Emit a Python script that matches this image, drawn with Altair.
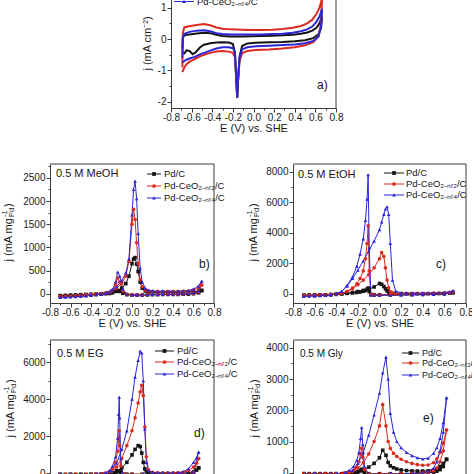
import altair as alt
import pandas as pd

SERIES = ["Pd/C", "Pd-CeO₂₋ₙᵣ₂/C", "Pd-CeO₂₋ₙᵣ₄/C"]
COLORS = ["#141414", "#dc2a1e", "#2b25d6"]
SHAPES = ["square", "circle", "triangle-up"]
FONT = "Liberation Sans"
AX = "#3c3c3c"

X_TICKS = [-0.8, -0.7, -0.6, -0.5, -0.4, -0.3, -0.2, -0.1, 0.0, 0.1, 0.2, 0.3, 0.4, 0.5, 0.6, 0.7, 0.8]
A_Y_TICKS = [-2.0, -1.5, -1.0, -0.5, 0.0, 0.5, 1.0, 1.5]
B_Y_TICKS = [0, 250, 500, 750, 1000, 1250, 1500, 1750, 2000, 2250, 2500, 2750]
C_Y_TICKS = [0, 1000, 2000, 3000, 4000, 5000, 6000, 7000, 8000]
D_Y_TICKS = [0, 1000, 2000, 3000, 4000, 5000, 6000, 7000]
E_Y_TICKS = [0, 500, 1000, 1500, 2000, 2500, 3000, 3500, 4000]

# ---------------- panel a: CV (mA cm-2) ----------------
A_FWD_E = [-0.69, -0.685, -0.67, -0.62, -0.55, -0.48, -0.42, -0.36, -0.30, -0.22, -0.12,
           -0.02, 0.08, 0.18, 0.28, 0.38, 0.46, 0.52, 0.57, 0.61, 0.64, 0.665]
A_PDC_FWD = [-0.30, 0.05, 0.12, 0.15, 0.18, 0.20, 0.19, 0.14, 0.10, 0.08, 0.08,
             0.09, 0.10, 0.11, 0.12, 0.14, 0.17, 0.21, 0.27, 0.36, 0.50, 0.72]
A_NR_FWD = [-0.90, 0.20, 0.38, 0.41, 0.45, 0.48, 0.44, 0.37, 0.33, 0.31, 0.30,
            0.29, 0.29, 0.30, 0.32, 0.36, 0.42, 0.50, 0.62, 0.80, 1.00, 1.30]
A_NS_FWD = [-0.60, 0.05, 0.17, 0.23, 0.27, 0.28, 0.25, 0.19, 0.16, 0.15, 0.15,
            0.15, 0.15, 0.16, 0.17, 0.20, 0.25, 0.31, 0.40, 0.55, 0.72, 0.97]
A_REV_E = [0.665, 0.655, 0.63, 0.58, 0.50, 0.40, 0.28, 0.15, 0.02, -0.06, -0.11, -0.135,
           -0.15, -0.158, -0.166, -0.18, -0.20, -0.24, -0.30, -0.36, -0.42, -0.48, -0.52,
           -0.56, -0.59, -0.62, -0.65, -0.67, -0.69]
A_PDC_REV = [0.72, 0.35, 0.15, 0.03, -0.04, -0.07, -0.09, -0.10, -0.12, -0.14, -0.22, -0.55,
             -1.30, -1.88, -1.35, -0.45, -0.16, -0.11, -0.10, -0.11, -0.13, -0.18, -0.27,
             -0.42, -0.48, -0.38, -0.36, -0.46, -0.42]
A_NR_REV = [1.30, 0.50, 0.10, -0.10, -0.20, -0.26, -0.30, -0.33, -0.35, -0.38, -0.45, -0.70,
            -1.35, -1.86, -1.35, -0.58, -0.44, -0.40, -0.38, -0.40, -0.44, -0.50, -0.55,
            -0.62, -0.67, -0.72, -0.80, -0.90, -1.05]
A_NS_REV = [0.97, 0.40, 0.08, -0.06, -0.13, -0.17, -0.19, -0.21, -0.23, -0.26, -0.33, -0.60,
            -1.30, -1.87, -1.32, -0.42, -0.29, -0.26, -0.26, -0.30, -0.37, -0.44, -0.49,
            -0.55, -0.59, -0.62, -0.66, -0.70, -0.75]

# ---------------- panel b: 0.5 M MeOH ----------------
B_FWD_E = [-0.70, -0.65, -0.60, -0.55, -0.50, -0.45, -0.40, -0.35, -0.30, -0.25, -0.20, -0.15,
           -0.10, -0.06, -0.03, 0.00, 0.015, 0.03, 0.045, 0.06, 0.08, 0.10, 0.13, 0.16, 0.20,
           0.25, 0.30, 0.35, 0.40, 0.45, 0.50, 0.55, 0.60, 0.65, 0.68]
B_PDC_FWD = [-40, -35, -30, -25, -20, -15, -10, -5, 0, 10, 30, 60, 120, 220, 380, 650, 750, 780,
             640, 480, 250, 120, 60, 40, 30, 30, 30, 30, 30, 30, 35, 40, 45, 55, 70]
B_NR_FWD = [-60, -55, -50, -45, -40, -30, -20, -10, 0, 20, 60, 120, 220, 380, 700, 1500, 1820,
            1600, 1100, 650, 300, 150, 80, 60, 50, 45, 45, 45, 45, 45, 50, 60, 80, 130, 190]
B_NS_FWD = [-70, -65, -60, -55, -50, -40, -30, -15, 0, 30, 80, 150, 280, 450, 750, 1700, 2250,
            2430, 2050, 1300, 550, 250, 120, 80, 60, 55, 55, 55, 55, 55, 60, 70, 100, 170, 270]
B_REV_E = [0.68, 0.65, 0.60, 0.55, 0.50, 0.45, 0.40, 0.35, 0.30, 0.25, 0.20, 0.15, 0.10, 0.05,
           0.00, -0.05, -0.09, -0.12, -0.14, -0.16, -0.19, -0.22, -0.26, -0.30, -0.35, -0.40,
           -0.45, -0.50, -0.55, -0.60, -0.65, -0.70]
B_PDC_REV = [70, 20, 0, -10, -10, -15, -15, -15, -15, -20, -20, -25, -30, -30, -30, -20, 10, 50,
             70, 50, 20, 5, 0, -10, -20, -25, -30, -35, -40, -40, -45, -50]
B_NR_REV = [190, 40, 10, 0, -5, -10, -10, -10, -10, -15, -15, -20, -25, -25, -25, -10, 60, 250,
            340, 200, 70, 20, 5, 0, -10, -20, -30, -40, -50, -55, -60, -60]
B_NS_REV = [270, 60, 20, 5, 0, -5, -10, -10, -10, -15, -15, -20, -25, -25, -25, -5, 100, 380,
            470, 260, 90, 30, 10, 0, -15, -30, -45, -55, -65, -70, -75, -80]

# ---------------- panel c: 0.5 M EtOH ----------------
C_FWD_E = [-0.70, -0.65, -0.60, -0.55, -0.50, -0.45, -0.40, -0.35, -0.30, -0.25, -0.20, -0.15,
           -0.10, -0.05, 0.00, 0.02, 0.04, 0.055, 0.07, 0.085, 0.10, 0.12, 0.15, 0.20, 0.25,
           0.30, 0.35, 0.40, 0.45, 0.50, 0.55, 0.60, 0.65, 0.68]
C_PDC_FWD = [-100, -90, -80, -70, -60, -50, -30, 0, 40, 90, 150, 220, 300, 450, 680, 620, 480,
             330, 200, 110, 60, 30, 20, 10, 10, 10, 10, 10, 10, 15, 20, 30, 50, 80]
C_NR_FWD = [-120, -110, -100, -90, -80, -60, -20, 50, 150, 330, 600, 900, 1250, 1700, 2300, 2700,
            2450, 1700, 900, 400, 150, 60, 30, 20, 20, 20, 20, 20, 25, 30, 40, 60, 90, 140]
C_NS_FWD = [-150, -140, -130, -120, -100, -60, 20, 150, 500, 1000, 1550, 2150, 2800, 3450, 4200,
            4700, 5200, 5550, 5700, 5200, 3300, 900, 180, 60, 50, 50, 50, 50, 55, 60, 70, 90,
            130, 200]
C_REV_E = [0.68, 0.60, 0.50, 0.40, 0.30, 0.20, 0.10, 0.00, -0.05, -0.08, -0.095, -0.105, -0.115,
           -0.13, -0.15, -0.18, -0.21, -0.25, -0.30, -0.35, -0.40, -0.45, -0.50, -0.55, -0.60,
           -0.65, -0.70]
C_PDC_REV = [80, 0, -20, -30, -40, -50, -60, -60, -60, -50, 150, 380, 300, 220, 170, 120, 90, 60,
             30, 0, -30, -50, -60, -70, -80, -90, -100]
C_NR_REV = [140, 0, -30, -40, -50, -60, -70, -80, -80, -60, 1500, 4450, 3300, 2300, 1500, 1000,
            650, 380, 150, 30, -30, -60, -80, -90, -100, -110, -120]
C_NS_REV = [200, 0, -40, -60, -70, -80, -90, -100, -100, -80, 3000, 7800, 6200, 4800, 3600, 2600,
            1800, 1100, 550, 150, 0, -60, -90, -110, -130, -140, -150]

# ---------------- panel d: 0.5 M EG ----------------
D_FWD_E = [-0.70, -0.65, -0.60, -0.55, -0.50, -0.45, -0.40, -0.35, -0.30, -0.25, -0.20, -0.15,
           -0.10, -0.05, 0.00, 0.03, 0.06, 0.08, 0.095, 0.11, 0.125, 0.14, 0.16, 0.20, 0.25, 0.30,
           0.35, 0.40, 0.45, 0.50, 0.55, 0.60, 0.63, 0.65]
D_PDC_FWD = [-50, -50, -50, -50, -50, -50, -50, -50, -40, -20, 50, 150, 300, 600, 1000, 1300,
             1500, 1450, 1100, 600, 250, 100, 40, 10, 0, 0, 0, 0, 0, 10, 30, 80, 180, 300]
D_NR_FWD = [-60, -60, -60, -60, -60, -60, -60, -60, -50, -20, 100, 350, 800, 1500, 2300, 3000,
            3800, 4400, 4750, 4200, 2500, 900, 200, 60, 30, 20, 20, 20, 30, 60, 150, 350, 550, 800]
D_NS_FWD = [-70, -70, -70, -70, -70, -70, -70, -70, -60, -20, 150, 550, 1300, 2300, 4000, 5200,
            6100, 6600, 6500, 5000, 2400, 600, 150, 60, 40, 30, 30, 30, 40, 100, 250, 600, 850,
            1150]
D_REV_E = [0.65, 0.60, 0.50, 0.40, 0.30, 0.20, 0.10, 0.00, -0.05, -0.09, -0.11, -0.12, -0.125,
           -0.13, -0.14, -0.16, -0.19, -0.22, -0.26, -0.30, -0.35, -0.40, -0.50, -0.60, -0.70]
D_PDC_REV = [300, 20, -20, -30, -30, -40, -40, -40, -40, -20, 60, 120, 140, 120, 90, 50, 20, 0,
             -20, -40, -50, -50, -50, -50, -50]
D_NR_REV = [800, 60, -20, -40, -40, -50, -50, -50, -50, -20, 400, 1500, 2300, 1900, 1200, 600,
            250, 100, 20, -30, -50, -60, -60, -60, -60]
D_NS_REV = [1150, 100, -20, -50, -60, -60, -60, -60, -60, -30, 800, 3000, 4120, 3200, 1900, 900,
            400, 150, 40, -30, -60, -70, -70, -70, -70]

# ---------------- panel e: 0.5 M Gly ----------------
E_FWD_E = [-0.70, -0.65, -0.60, -0.55, -0.50, -0.45, -0.40, -0.35, -0.30, -0.25, -0.20, -0.15,
           -0.10, -0.05, 0.00, 0.03, 0.06, 0.08, 0.10, 0.13, 0.16, 0.20, 0.25, 0.30, 0.35, 0.40,
           0.45, 0.50, 0.53, 0.56, 0.59, 0.62]
E_PDC_FWD = [-30, -30, -30, -30, -30, -30, -30, -30, -20, 0, 30, 80, 180, 300, 480, 720, 560, 330,
             220, 160, 120, 90, 70, 60, 55, 55, 60, 80, 120, 200, 300, 430]
E_NR_FWD = [-40, -40, -40, -40, -40, -40, -40, -40, -20, 40, 150, 320, 600, 1000, 1500, 2180,
            1500, 1000, 780, 620, 520, 430, 350, 300, 260, 240, 250, 320, 450, 650, 950, 1370]
E_NS_FWD = [-50, -50, -50, -50, -50, -50, -50, -50, -20, 80, 300, 650, 1200, 1850, 2550, 3200,
            3700, 3000, 1900, 1300, 1000, 800, 650, 550, 480, 440, 470, 620, 800, 1100, 1600, 2400]
E_REV_E = [0.62, 0.59, 0.56, 0.53, 0.50, 0.45, 0.40, 0.30, 0.20, 0.10, 0.00, -0.10, -0.14, -0.155,
           -0.165, -0.175, -0.19, -0.21, -0.24, -0.28, -0.32, -0.40, -0.50, -0.60, -0.70]
E_PDC_REV = [430, 200, 100, 50, 20, 0, -10, -20, -30, -30, -30, -30, 0, 60, 110, 80, 40, 10, 0,
             -10, -20, -30, -30, -30, -30]
E_NR_REV = [1370, 700, 350, 150, 60, 20, 0, -20, -30, -40, -40, -40, 100, 500, 780, 600, 350, 180,
            80, 20, -10, -30, -40, -40, -40]
E_NS_REV = [2400, 1300, 700, 350, 150, 50, 0, -20, -40, -50, -50, -50, 200, 900, 1450, 1100, 650,
            400, 200, 80, 0, -40, -50, -50, -50]


def loop_df(items):
    rows = []
    for name, fe, fj, re_, rj in items:
        for i, (e, j) in enumerate(zip(fe + re_, fj + rj)):
            rows.append({"s": name, "E": e, "j": j, "i": i})
    return pd.DataFrame(rows)


ONE = pd.DataFrame({"k": [0]})


def txt(x, y, text, size=11, align="left", angle=0, color="#151515"):
    kw = dict(text=text, fontSize=size, align=align, baseline="middle", color=color, font=FONT)
    if angle:
        kw["angle"] = angle
    return alt.Chart(ONE).mark_text(**kw).encode(x=alt.value(x), y=alt.value(y))


def legend_layers(x0, x1, xt, ys, idx=(0, 1, 2), size=9.5):
    out = []
    for n, k in enumerate(idx):
        y = ys[n]
        out.append(alt.Chart(ONE).mark_rule(color=COLORS[k], strokeWidth=1).encode(
            x=alt.value(x0), x2=alt.value(x1), y=alt.value(y)))
        out.append(alt.Chart(ONE).mark_point(filled=True, shape=SHAPES[k], color=COLORS[k],
                                             size=14, opacity=1).encode(
            x=alt.value((x0 + x1) / 2), y=alt.value(y)))
        out.append(txt(xt, y, SERIES[k], size=size))
    return out


def ytitle_mg(xc, yc):
    yb = yc + 28
    return [
        txt(xc, yb, "j (mA mg", size=11, angle=270),
        txt(xc + 3, yb - 44.5, "Pd", size=7.5, angle=270),
        txt(xc - 4, yb - 44.5, "-1", size=7.5, angle=270),
        txt(xc, yb - 54.5, ")", size=11, angle=270),
    ]


def box(x0, w, h):
    return [
        alt.Chart(ONE).mark_rule(color=AX, strokeWidth=1).encode(
            x=alt.value(x0), x2=alt.value(x0 + w), y=alt.value(0)),
        alt.Chart(ONE).mark_rule(color=AX, strokeWidth=1).encode(
            x=alt.value(x0 + w), y=alt.value(0), y2=alt.value(h)),
    ]


XMAJ = "abs(round(datum.value*10)) % 2 == 0"


def panel(df, x0, w, h, ydom, yticks, ystep, yfmt, markers, sw, extras, ytitle=None,
          xoffset=0, show_x=True):
    ymaj = f"abs(datum.value % {ystep}) < 1e-6"
    common = dict(grid=False, labelFontSize=10, titleFontSize=11, titleFontWeight="normal",
                  labelFont=FONT, titleFont=FONT, domainColor=AX, tickColor=AX,
                  labelColor="#1a1a1a", titleColor="#1a1a1a", labelFlush=False,
                  labelOverlap=False)
    xax = alt.Axis(values=X_TICKS, orient="bottom", offset=xoffset, labelPadding=0,
                   labelExpr=f"{XMAJ} ? replace(format(datum.value, '.1f'), '\u2212', '-') : ''",
                   tickSize={"condition": {"test": XMAJ, "value": 4}, "value": 2},
                   title="E (V) vs. SHE", titlePadding=0, **common)
    yax = alt.Axis(values=yticks, orient="left", offset=-x0, labelPadding=1,
                   labelExpr=f"{ymaj} ? replace(format(datum.value, '{yfmt}'), '\u2212', '-') : ''",
                   tickSize={"condition": {"test": ymaj, "value": 4}, "value": 2},
                   title=ytitle, titlePadding=5, **common)
    xscale = alt.Scale(domain=[-0.8, 0.8], range=[x0, x0 + w], nice=False, zero=False)
    x = alt.X("E:Q", scale=xscale, axis=xax) if show_x else alt.X("E:Q", scale=xscale, axis=None)
    y = alt.Y("j:Q", scale=alt.Scale(domain=ydom, range=[h, 0], nice=False, zero=False),
              axis=yax)
    color = alt.Color("s:N", scale=alt.Scale(domain=SERIES, range=COLORS), legend=None)
    layers = [alt.Chart(df).mark_line(strokeWidth=sw).encode(
        x=x, y=y, color=color, order=alt.Order("i:Q"))]
    if markers:
        layers.append(alt.Chart(df).mark_point(filled=True, size=13, opacity=1).encode(
            x=x, y=y, color=color,
            shape=alt.Shape("s:N", scale=alt.Scale(domain=SERIES, range=SHAPES), legend=None)))
    layers += box(x0, w, h) + extras
    return alt.layer(*layers)


df_a = loop_df([(SERIES[0], A_FWD_E, A_PDC_FWD, A_REV_E, A_PDC_REV),
                (SERIES[1], A_FWD_E, A_NR_FWD, A_REV_E, A_NR_REV),
                (SERIES[2], A_FWD_E, A_NS_FWD, A_REV_E, A_NS_REV)])
df_b = loop_df([(SERIES[0], B_FWD_E, B_PDC_FWD, B_REV_E, B_PDC_REV),
                (SERIES[1], B_FWD_E, B_NR_FWD, B_REV_E, B_NR_REV),
                (SERIES[2], B_FWD_E, B_NS_FWD, B_REV_E, B_NS_REV)])
df_c = loop_df([(SERIES[0], C_FWD_E, C_PDC_FWD, C_REV_E, C_PDC_REV),
                (SERIES[1], C_FWD_E, C_NR_FWD, C_REV_E, C_NR_REV),
                (SERIES[2], C_FWD_E, C_NS_FWD, C_REV_E, C_NS_REV)])
df_d = loop_df([(SERIES[0], D_FWD_E, D_PDC_FWD, D_REV_E, D_PDC_REV),
                (SERIES[1], D_FWD_E, D_NR_FWD, D_REV_E, D_NR_REV),
                (SERIES[2], D_FWD_E, D_NS_FWD, D_REV_E, D_NS_REV)])
df_e = loop_df([(SERIES[0], E_FWD_E, E_PDC_FWD, E_REV_E, E_PDC_REV),
                (SERIES[1], E_FWD_E, E_NR_FWD, E_REV_E, E_NR_REV),
                (SERIES[2], E_FWD_E, E_NS_FWD, E_REV_E, E_NS_REV)])

ROW_W = 416
H = 139
H3 = 135
WL, WR = 164, 173
XL, XR = 0, 243
XA, WA, HA, H1 = 121, 165, 130, 149

pa = panel(df_a, XA, WA, HA, [-2.2, 1.95], A_Y_TICKS, 1, ".0f", False, 2,
           [txt(XA + 146, 106.5, "a)", size=12)] +
           legend_layers(XA + 3, XA + 23, XA + 26, [23.5], idx=(2,)),
           ytitle="j (mA cm⁻²)", xoffset=HA - H1)
pb = panel(df_b, XL, WL, H, [-200, 2800], B_Y_TICKS, 500, "d", True, 1,
           [txt(XL + 6, 10, "0.5 M MeOH")] + legend_layers(XL + 97, XL + 111, XL + 114, [10, 22, 34]) +
           [txt(XL + 149, 100, "b)", size=12)] + ytitle_mg(XL - 41, H / 2))
pc = panel(df_c, XR, WR, H, [-600, 8500], C_Y_TICKS, 2000, "d", True, 1,
           [txt(XR + 5, 11, "0.5 M EtOH")] + legend_layers(XR + 91, XR + 111, XR + 113, [9, 20, 31]) +
           [txt(XR + 143, 100, "c)", size=12)] + ytitle_mg(XR - 39, H / 2))
pd_ = panel(df_d, XL, WL, H3, [-84, 7200], D_Y_TICKS, 2000, "d", True, 1,
            [txt(XL + 7, 14, "0.5 M EG")] + legend_layers(XL + 105, XL + 124, XL + 127, [11, 22, 34]) +
            [txt(XL + 144, 93, "d)", size=12)] + ytitle_mg(XL - 39, H / 2), show_x=False)
pe = panel(df_e, XR, WR, H3, [-72, 4250], E_Y_TICKS, 1000, "d", True, 1,
           [txt(XR + 7, 14, "0.5 M Gly", size=10)] +
           legend_layers(XR + 109, XR + 126, XR + 129, [13, 23, 35], size=9) +
           [txt(XR + 130, 78, "e)", size=12)] + ytitle_mg(XR - 38, H / 2), show_x=False)

row1 = pa.properties(width=ROW_W, height=H1)
row2 = alt.layer(pb, pc).resolve_scale(x="independent", y="independent").properties(
    width=ROW_W, height=H)
row3 = alt.layer(pd_, pe).resolve_scale(x="independent", y="independent").properties(
    width=ROW_W, height=H3)

chart = alt.vconcat(row1, row2, row3, spacing=37, bounds="flush").properties(
    padding={"left": 1, "top": -23, "right": -8, "bottom": -4},
    background="white",
).configure(font=FONT).configure_view(strokeOpacity=0)

chart.save("out.html", embed_options={"renderer": "svg", "actions": False})
